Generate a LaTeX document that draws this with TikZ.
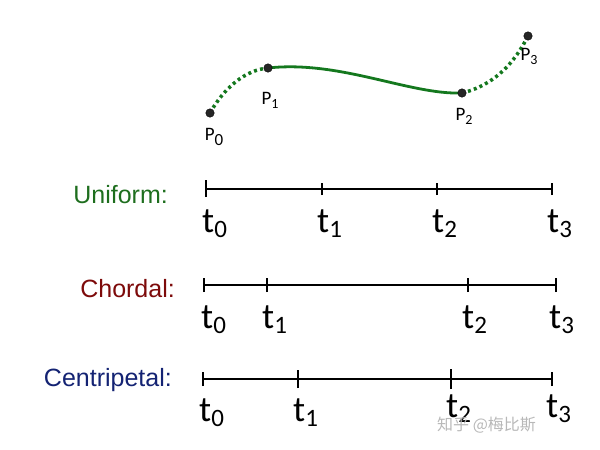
\documentclass[tikz,border=0pt]{standalone}
\usepackage{fontspec}
\setmainfont{Carlito}
\newfontfamily\arialf{Liberation Sans}
\newfontfamily\cjkf{Noto Sans CJK SC}
\definecolor{cgreen}{RGB}{20,120,30}
\definecolor{lgreen}{RGB}{30,110,30}
\definecolor{cred}{RGB}{125,10,10}
\definecolor{cblue}{RGB}{20,35,115}
\newcommand{\tsb}[1]{t\raisebox{-5pt}{\fontsize{25}{25}\selectfont #1}}
\newcommand{\psb}[1]{P\raisebox{-4pt}{\fontsize{14}{14}\selectfont #1}}
\begin{document}
\begin{tikzpicture}[x=1pt,y=-1pt,
  pt/.style={circle,fill=black!85,draw=black,inner sep=0pt,minimum size=8.5pt},
  plab/.style={font=\fontsize{19}{19}\selectfont,inner sep=0pt},
  dotcurve/.style={cgreen,line width=3.5pt,dash pattern=on 3pt off 3.2pt},
  solidcurve/.style={cgreen,line width=2.8pt},
  axis/.style={line width=2.4pt,black},
  tickmark/.style={line width=2pt,black},
  tlab/.style={anchor=west,inner sep=0pt,font=\fontsize{36}{36}\selectfont},
  method/.style={anchor=east,inner sep=0pt,font=\arialf\fontsize{25}{25}\selectfont}]
\useasboundingbox (0,0) rectangle (600,450);
% curve
\coordinate (P0) at (210,113);
\coordinate (P1) at (268,68);
\coordinate (P2) at (462,93);
\coordinate (P3) at (528,36);
\draw[dotcurve] (P0) .. controls (224,88) and (245,70) .. (P1);
\draw[solidcurve] (P1) .. controls (340,60) and (410,95) .. (P2);
\draw[dotcurve] (P2) .. controls (495,85) and (515,62) .. (P3);
\node[pt] (p0) at (P0) {};
\node[pt] (p1) at (P1) {};
\node[pt] (p2) at (P2) {};
\node[pt] (p3) at (P3) {};
\node[plab] (l0) at (214,137) {P\raisebox{-5pt}{\fontsize{17}{17}\selectfont 0}};
\node[plab] (l1) at (270,100) {\psb{1}};
\node[plab] (l2) at (464,116) {\psb{2}};
\node[plab] (l3) at (529,56) {\psb{3}};
% uniform
\node[method,text=lgreen] (mu) at (168,195) {Uniform:};
\coordinate (u0) at (206,189); \coordinate (u1) at (322,189);
\coordinate (u2) at (437,189); \coordinate (u3) at (552,189);
\draw[axis] (u0) -- (u3);
\draw[tickmark] ([yshift=-8pt]u0) -- ([yshift=9pt]u0);
\foreach \c in {u1,u2,u3} \draw[tickmark] ([yshift=-6pt]\c) -- ([yshift=6pt]\c);
\node[tlab] (tu0) at (202,224) {\tsb{0}};
\node[tlab] (tu1) at (317,224) {\tsb{1}};
\node[tlab] (tu2) at (432,224) {\tsb{2}};
\node[tlab] (tu3) at (547,224) {\tsb{3}};
% chordal
\node[method,text=cred] (mc) at (175,289) {Chordal:};
\coordinate (c0) at (204,285); \coordinate (c1) at (267,285);
\coordinate (c2) at (468,285); \coordinate (c3) at (556,285);
\draw[axis] (c0) -- (c3);
\foreach \c in {c0,c1,c2,c3} \draw[tickmark] ([yshift=-7pt]\c) -- ([yshift=7pt]\c);
\node[tlab] (tc0) at (201,320) {\tsb{0}};
\node[tlab] (tc1) at (262,320) {\tsb{1}};
\node[tlab] (tc2) at (462,320) {\tsb{2}};
\node[tlab] (tc3) at (549,320) {\tsb{3}};
% centripetal
\node[method,text=cblue] (mp) at (172,380) {Centripetal:};
\coordinate (e0) at (203,379); \coordinate (e1) at (298,379);
\coordinate (e2) at (451,379); \coordinate (e3) at (552,379);
\draw[axis] (e0) -- (e3);
\draw[tickmark] ([yshift=-7pt]e0) -- ([yshift=7pt]e0);
\draw[tickmark] ([yshift=-9pt]e1) -- ([yshift=9pt]e1);
\draw[tickmark] ([yshift=-10pt]e2) -- ([yshift=10pt]e2);
\draw[tickmark] ([yshift=-7pt]e3) -- ([yshift=7pt]e3);
\node[tlab] (te0) at (199,413) {\tsb{0}};
\node[tlab] (te1) at (293,413) {\tsb{1}};
\node[tlab] (te2) at (446,409) {\tsb{2}};
\node[tlab] (te3) at (546,409) {\tsb{3}};
% watermark
\node[anchor=west,inner sep=0pt,text=black!28,font=\cjkf\fontsize{16}{16}\selectfont] (wm) at (437,425) {知乎 @梅比斯};
\end{tikzpicture}
\end{document}
